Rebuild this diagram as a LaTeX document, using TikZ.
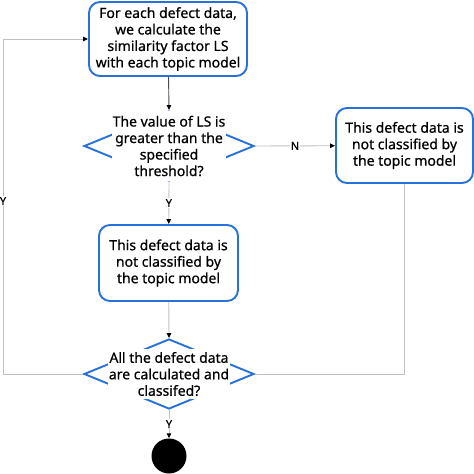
\documentclass[tikz,border=0pt]{standalone}
\usepackage{fontspec}
\setmainfont{Noto Sans}
\newfontfamily\flowfam{Noto Sans}[FakeBold=0.6]
\usepackage{xcolor}
\usepackage{tikz}
\usetikzlibrary{arrows.meta}
\usetikzlibrary{shapes.geometric}
\definecolor{dblue}{RGB}{40,112,218}
\definecolor{linegray}{RGB}{192,192,192}
\newcommand\flowfont{\flowfam\fontsize{14}{16.5}\selectfont}
\tikzstyle{flhead}=[>/.tip={Triangle[length=5pt,width=4.5pt,black]}]
\tikzstyle{fl} =[line width=.9pt,linegray,flhead,->]
\tikzstyle{fld}=[fl,black!70]
\tikzstyle{fln}=[line width=.9pt,linegray]
\tikzstyle{act}=[draw=dblue,line width=1.9pt,rounded corners=11pt,fill=white,align=center,
  inner sep=2pt,font=\flowfont]
\tikzstyle{decision}=[diamond,draw=dblue,line width=1.9pt,inner sep=0pt,
  minimum width=170pt,minimum height=70pt]
\tikzstyle{dtext}=[fill=white,align=center,inner sep=1pt,font=\flowfont]
\tikzstyle{lbl}=[fill=white,text=black,inner sep=1pt,font=\flowfam\fontsize{11}{12}\selectfont]
\begin{document}
\begin{tikzpicture}[x=1pt,y=-1pt]
  \useasboundingbox (0,0) rectangle (474,474);
  \node[act,minimum width=158pt,minimum height=74pt] (calc) at (168,39)
    {For each defect data,\\we calculate the\\similarity factor LS\\with each topic model};
  \node[decision] (gt) at (169,146) {};
  \node[dtext,minimum height=70pt] (gtq) at (gt.center)
    {The value of LS is\\greater than the\\specified\\threshold?};
  \node[act,minimum width=137pt,minimum height=75pt] (notr) at (404.5,145.5)
    {This defect data is\\not classified by\\the topic model};
  \node[act,minimum width=139pt,minimum height=76pt] (notm) at (168.5,263)
    {This defect data is\\not classified by\\the topic model};
  \node[decision] (all) at (169,374) {};
  \node[dtext,minimum height=50pt] (allq) at (all.center)
    {All the defect data\\are calculated and\\classifed?};
  \node[circle,fill=black,minimum size=35pt,inner sep=0pt] (stop) at (169,456) {};
  \coordinate (loop) at (3,39);
  % connectors
  \draw[fld] (calc) -- (gt.north);
  \draw[fl] (gt.south) --node[lbl]{Y} (notm);
  \draw[fl] (gt.east) --node[lbl]{N} (notr);
  \draw[fl] (notm) -- (all.north);
  \draw[fln] (notr.south) |- (all.east);
  \draw[fl] (all.west) -|node[lbl,pos=.758]{Y} (loop) -- (calc.west);
  \draw[fl] (all.south) --node[lbl]{Y} (stop);
\end{tikzpicture}
\end{document}
